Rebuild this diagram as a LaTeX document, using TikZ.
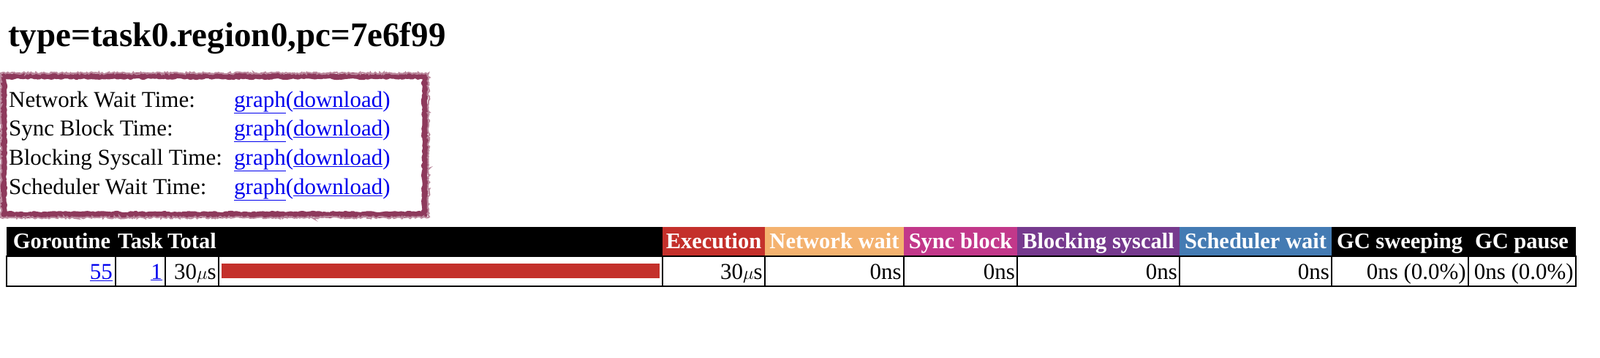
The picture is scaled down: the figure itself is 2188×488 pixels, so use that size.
\documentclass[tikz,border=0pt]{standalone}
\usepackage{fontspec}
\setmainfont{Liberation Serif}
\usetikzlibrary{decorations.pathmorphing}
\definecolor{lnk}{HTML}{0000EE}
\definecolor{frm}{HTML}{8E3A5C}
\definecolor{cex}{HTML}{C4302B}
\definecolor{cnw}{HTML}{F4B26F}
\definecolor{csb}{HTML}{C2388A}
\definecolor{cbs}{HTML}{763A8E}
\definecolor{csw}{HTML}{447BB3}
\tikzset{
 lbl/.style={anchor=base west,inner sep=0pt,font=\fontsize{31}{33}\selectfont},
 lnkt/.style={lbl,text=lnk},
 hd/.style={anchor=base,inner sep=0pt,text=white,font=\fontsize{30.5}{33}\selectfont\bfseries},
 dat/.style={anchor=base east,inner sep=0pt,font=\fontsize{31}{33}\selectfont},
 cell/.style={draw=black,line width=1.5pt}
}
\newcommand{\ul}[1]{\underline{#1}}
\begin{document}
\begin{tikzpicture}[x=1pt,y=-1pt]
\useasboundingbox[fill=white] (0,0) rectangle (2188,488);
\node[anchor=base west,inner sep=0pt,font=\fontsize{47}{50}\selectfont\bfseries] (title) at (11,63) {type=task0.region0,pc=7e6f99};
% frame
\draw[frm,line width=8pt,line join=round,decorate,decoration={random steps,segment length=3pt,amplitude=1.2pt}] (5,104) rectangle (581,293);
\draw[frm!60,line width=2pt,decorate,decoration={random steps,segment length=2pt,amplitude=1.5pt}] (1,100) rectangle (586,297);
\foreach \t/\y [count=\i] in {Network Wait Time:/146,Sync Block Time:/185,Blocking Syscall Time:/225,Scheduler Wait Time:/265}{
 \node[lbl] (l\i) at (12,\y) {\t};
 \node[lnkt] (g\i) at (320,\y) {\ul{graph}(\ul{download})};
}
% header
\fill[black] (9,310) rectangle (2155,350);
\fill[cex] (906,310) rectangle (1046,350);
\fill[cnw] (1046,310) rectangle (1236,350);
\fill[csb] (1236,310) rectangle (1391,350);
\fill[cbs] (1391,310) rectangle (1613,350);
\fill[csw] (1613,310) rectangle (1821,350);
\node[hd] (h1) at (84.5,339) {Goroutine};
\node[hd] (h2) at (192,339) {Task};
\node[hd] (h3) at (262.5,339) {Total};
\node[hd] (h4) at (976,339) {Execution};
\node[hd] (h5) at (1141,339) {Network wait};
\node[hd] (h6) at (1313.5,339) {Sync block};
\node[hd] (h7) at (1502,339) {Blocking syscall};
\node[hd] (h8) at (1717,339) {Scheduler wait};
\node[hd] (h9) at (1914,339) {GC sweeping};
\node[hd] (h10) at (2081,339) {GC pause};
% data row
\foreach \a/\b in {9/158,158/226,226/299,299/906,906/1046,1046/1236,1236/1391,1391/1613,1613/1821,1821/2008,2008/2155}{
 \draw[cell] (\a,350) rectangle (\b,391);
}
\fill[cex] (303,360) rectangle (902,380);
\node[dat,text=lnk] (d1) at (154,381) {\ul{55}};
\node[dat,text=lnk] (d2) at (222,381) {\ul{1}};
\node[dat] (d3) at (296,381) {30$\mu$s};
\node[dat] (d4) at (1043,381) {30$\mu$s};
\node[dat] (d5) at (1233,381) {0ns};
\node[dat] (d6) at (1388,381) {0ns};
\node[dat] (d7) at (1610,381) {0ns};
\node[dat] (d8) at (1818,381) {0ns};
\node[dat] (d9) at (2005,381) {0ns (0.0\%)};
\node[dat] (d10) at (2152,381) {0ns (0.0\%)};
\end{tikzpicture}
\end{document}
